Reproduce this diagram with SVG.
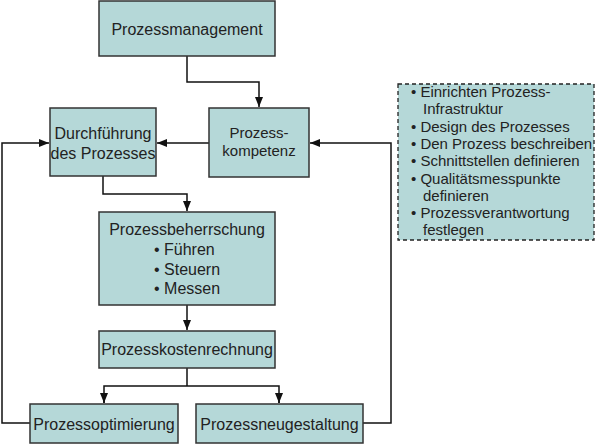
<svg xmlns="http://www.w3.org/2000/svg" width="595" height="444" viewBox="0 0 595 444">
<style>
.box{fill:#b5d8d8;stroke:#333;stroke-width:1.5}
.t{font-family:"Liberation Sans",Arial,sans-serif;font-size:16px;fill:#222}
.s{font-size:15px}
.c{text-anchor:middle}
.ln{fill:none;stroke:#111;stroke-width:1.5}
</style>
<defs>
<marker id="ah" markerWidth="10" markerHeight="8" refX="10" refY="4" orient="auto" markerUnits="userSpaceOnUse">
<path d="M0,0 L10,4 L0,8 Z" fill="#111"/>
</marker>
</defs>
<g id="connectors">
<path class="ln" d="M187,56 V82 H259 V107" marker-end="url(#ah)"/>
<path class="ln" d="M209,143 H157" marker-end="url(#ah)"/>
<path class="ln" d="M30,423 H2 V143 H49" marker-end="url(#ah)"/>
<path class="ln" d="M363,423 H391 V143 H310" marker-end="url(#ah)"/>
<path class="ln" d="M103,176 V194 H187 V211" marker-end="url(#ah)"/>
<path class="ln" d="M187,305 V330" marker-end="url(#ah)"/>
<path class="ln" d="M187,368 V386 M104,403 V386 H279 V403"/>
<path class="ln" d="M104,394 V403" marker-end="url(#ah)"/>
<path class="ln" d="M279,394 V403" marker-end="url(#ah)"/>
</g>
<g id="prozessmanagement">
<rect class="box" x="99" y="1" width="176" height="55"/>
<text class="t c" x="187" y="35">Prozessmanagement</text>
</g>
<g id="durchfuehrung">
<rect class="box" x="50" y="108" width="106" height="68"/>
<text class="t c" x="103" y="139">Durchführung</text>
<text class="t c" x="103" y="159">des Prozesses</text>
</g>
<g id="prozesskompetenz">
<rect class="box" x="209" y="108" width="100" height="69"/>
<text class="t s c" x="259" y="138">Prozess-</text>
<text class="t s c" x="259" y="156">kompetenz</text>
</g>
<g id="liste">
<rect x="398" y="84" width="196" height="156" fill="#b5d8d8" stroke="#222" stroke-width="1.3" stroke-dasharray="4,3"/>
<g class="t s">
<text x="411" y="97">• Einrichten Prozess-</text>
<text x="423" y="114.3">Infrastruktur</text>
<text x="411" y="131.6">• Design des Prozesses</text>
<text x="411" y="148.9">• Den Prozess beschreiben</text>
<text x="411" y="166.2">• Schnittstellen definieren</text>
<text x="411" y="183.5">• Qualitätsmesspunkte</text>
<text x="423" y="200.8">definieren</text>
<text x="411" y="218.1">• Prozessverantwortung</text>
<text x="423" y="235.4">festlegen</text>
</g>
</g>
<g id="prozessbeherrschung">
<rect class="box" x="99" y="212" width="176" height="93"/>
<text class="t c" x="187" y="235">Prozessbeherrschung</text>
<text class="t" x="154" y="255">• Führen</text>
<text class="t" x="154" y="275">• Steuern</text>
<text class="t" x="154" y="294">• Messen</text>
</g>
<g id="prozesskostenrechnung">
<rect class="box" x="99" y="331" width="176" height="37"/>
<text class="t c" x="187" y="355">Prozesskostenrechnung</text>
</g>
<g id="prozessoptimierung">
<rect class="box" x="30" y="404" width="148" height="39"/>
<text class="t c" x="104" y="430">Prozessoptimierung</text>
</g>
<g id="prozessneugestaltung">
<rect class="box" x="196" y="404" width="167" height="39"/>
<text class="t c" x="279.5" y="430">Prozessneugestaltung</text>
</g>
</svg>
